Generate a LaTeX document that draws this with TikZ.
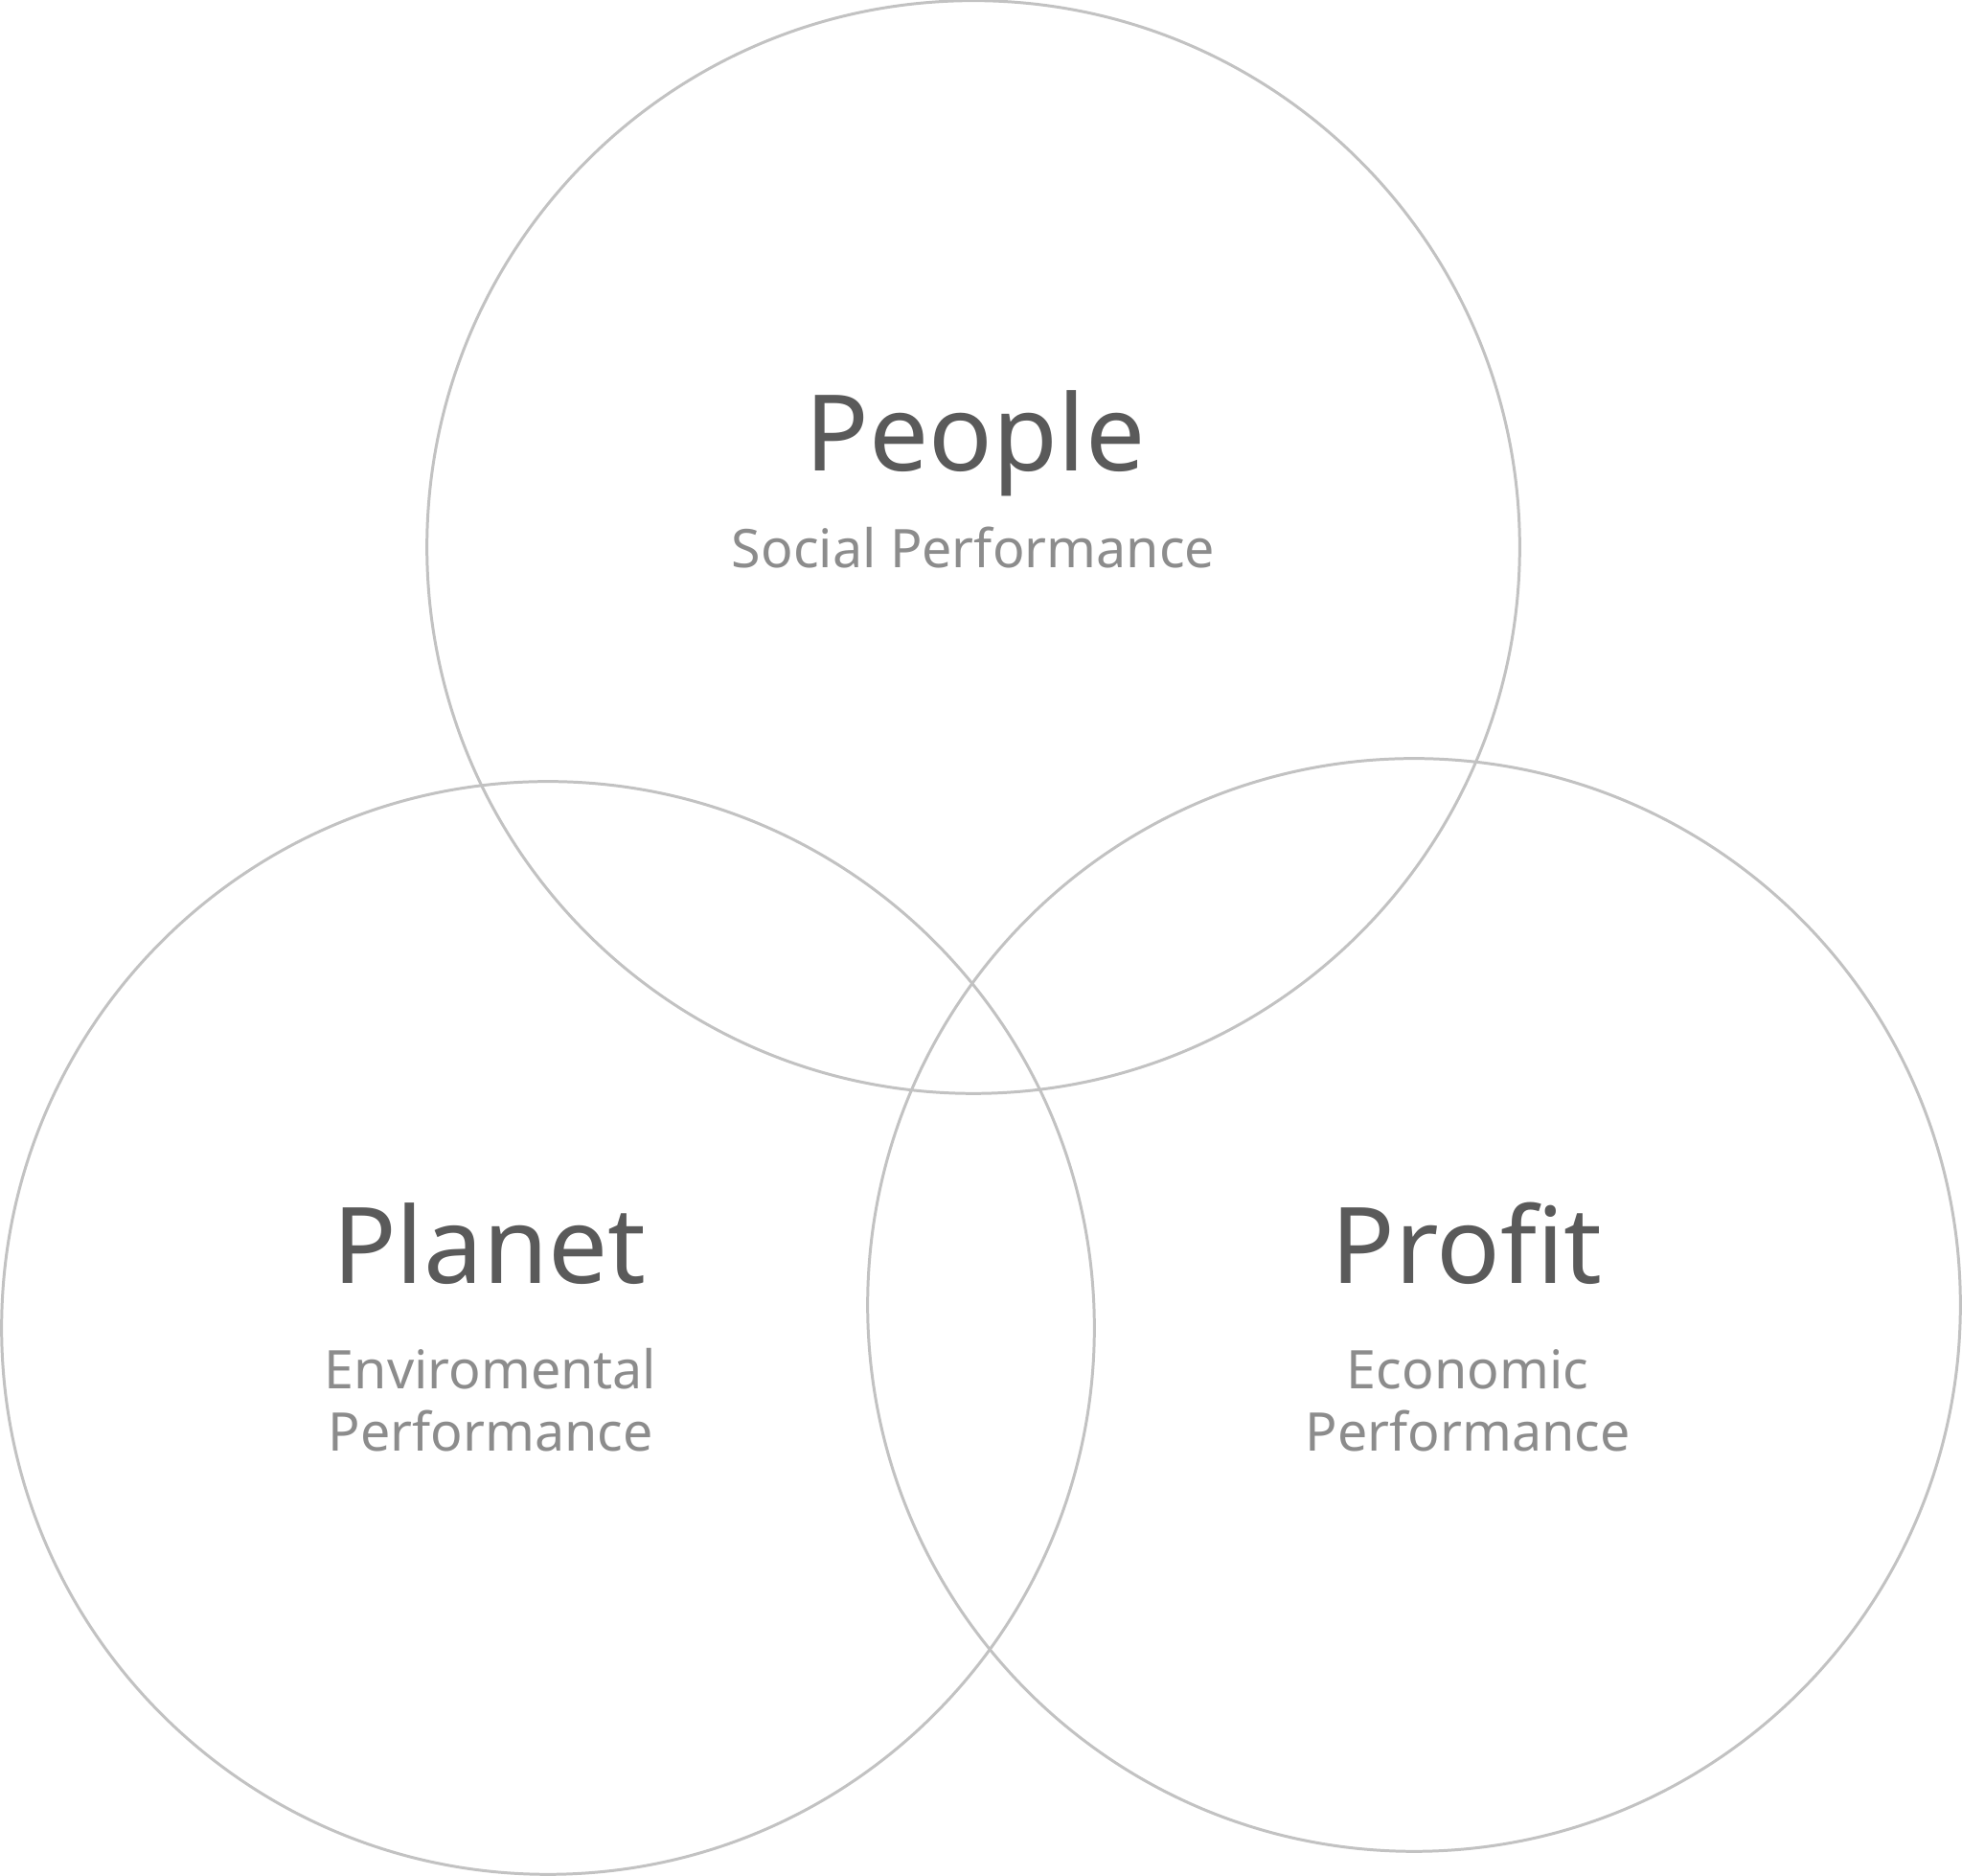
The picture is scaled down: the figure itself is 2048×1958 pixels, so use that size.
\documentclass[tikz,border=0pt]{standalone}
\usepackage{fontspec}
\setmainfont{Noto Sans}
\usepackage{tikz}
\definecolor{ringgray}{HTML}{C2C2C2}
\definecolor{titlegray}{HTML}{5A5A5A}
\definecolor{subgray}{HTML}{8C8C8C}
\tikzset{
	ring/.style = {
		circle,
		draw=ringgray,
		line width=0.85pt,
		minimum size=11.4cm,
		inner sep=0pt
	},
	node_title/.style = {
		anchor=base,
		inner sep=0pt,
		text=titlegray,
		font=\fontsize{31.4}{38}\selectfont
	},
	node_sub/.style = {
		anchor=base,
		inner sep=0pt,
		align=center,
		text=subgray,
		font=\fontsize{15.8}{18.6}\selectfont
	},
}

\begin{document}
\begin{tikzpicture}[x=0.01cm, y=0.01cm]
\useasboundingbox (0,0) rectangle (2048,1958);
% the three circles
\node [ring] (people) at (1016,1387) {};
\node [ring] (planet) at (572,572) {};
\node [ring] (profit) at (1476,596) {};
% labels (sub base = last line)
\node [node_title] (people_t) at (1018,1466) {People};
\node [node_sub] (people_s) at (1016,1365) {Social Performance};
\node [node_title] (planet_t) at (511,618) {Planet};
\node [node_sub] (planet_s) at (512,443) {Enviromental\\Performance};
\node [node_title] (profit_t) at (1531,618) {Profit};
\node [node_sub] (profit_s) at (1532,443) {Economic\\Performance};
\end{tikzpicture}
\end{document}
